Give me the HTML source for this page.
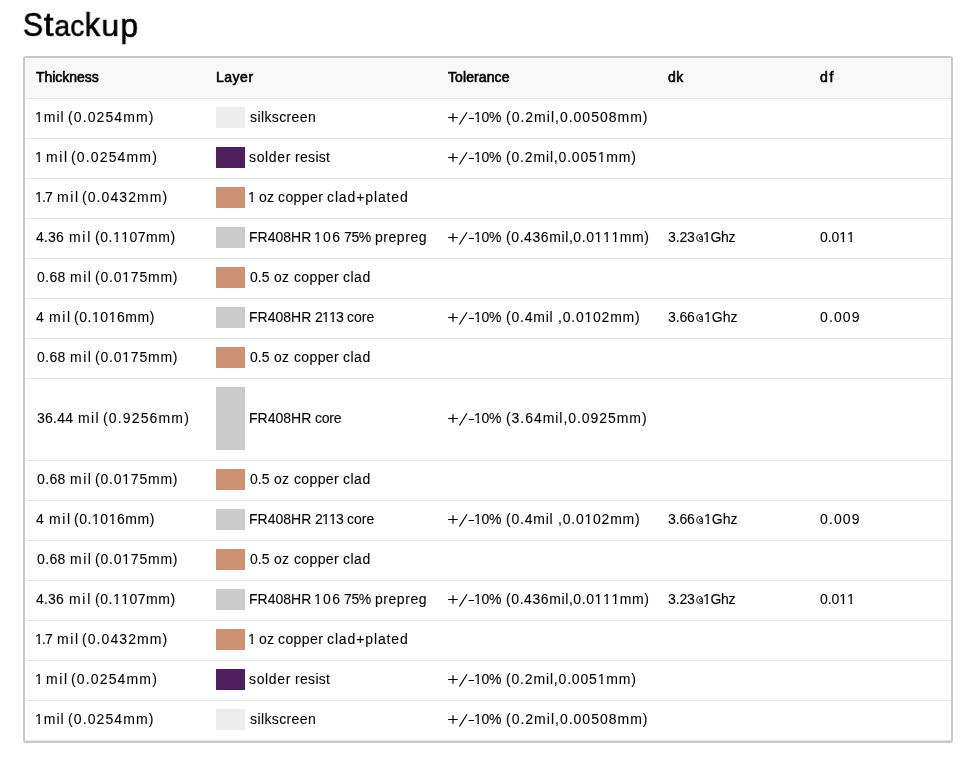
<!DOCTYPE html>
<html><head><meta charset="utf-8"><title>Stackup</title><style>
html,body{margin:0;padding:0;background:#fff;}
body{width:972px;height:764px;position:relative;overflow:hidden;font-family:"Liberation Sans",sans-serif;font-size:14px;color:#000;}
.t{position:absolute;white-space:pre;will-change:transform;line-height:20px;}
.box{position:absolute;left:23px;top:56px;width:926px;height:683px;border:2px solid #c8c8c8;border-radius:3px;background:#fff;}
.hd{position:absolute;left:25px;top:58px;width:926px;height:40px;background:#f8f8f8;}
.ln{position:absolute;left:26px;width:925px;height:1px;background:#e6e6e6;}
.pm{position:absolute;left:446px;}
.at{position:absolute;}
.o{display:inline-block;clip-path:polygon(-3px -5px,12px -5px,12px 12.6px,4.95px 12.6px,4.95px 22px,3.3px 22px,3.3px 12.6px,-3px 12.6px);}
.sw{position:absolute;left:216px;width:29px;}
</style></head><body>
<div class="box"></div>
<div class="hd"></div>
<div class="ln" style="top:98px"></div>
<div class="ln" style="top:138px"></div>
<div class="ln" style="top:178px"></div>
<div class="ln" style="top:218px"></div>
<div class="ln" style="top:258px"></div>
<div class="ln" style="top:298px"></div>
<div class="ln" style="top:338px"></div>
<div class="ln" style="top:378px"></div>
<div class="ln" style="top:460px"></div>
<div class="ln" style="top:500px"></div>
<div class="ln" style="top:540px"></div>
<div class="ln" style="top:580px"></div>
<div class="ln" style="top:620px"></div>
<div class="ln" style="top:660px"></div>
<div class="ln" style="top:700px"></div>
<div class="ln" style="top:740px"></div>
<div class="sw" style="top:107px;height:21px;background:#ededed"></div>
<div class="sw" style="top:147px;height:21px;background:#4d1f5c"></div>
<div class="sw" style="top:187px;height:21px;background:#cd9174"></div>
<div class="sw" style="top:227px;height:21px;background:#cbcbcb"></div>
<div class="sw" style="top:267px;height:21px;background:#cd9174"></div>
<div class="sw" style="top:307px;height:21px;background:#cbcbcb"></div>
<div class="sw" style="top:347px;height:21px;background:#cd9174"></div>
<div class="sw" style="top:387px;height:63px;background:#cbcbcb"></div>
<div class="sw" style="top:469px;height:21px;background:#cd9174"></div>
<div class="sw" style="top:509px;height:21px;background:#cbcbcb"></div>
<div class="sw" style="top:549px;height:21px;background:#cd9174"></div>
<div class="sw" style="top:589px;height:21px;background:#cbcbcb"></div>
<div class="sw" style="top:629px;height:21px;background:#cd9174"></div>
<div class="sw" style="top:669px;height:21px;background:#4d1f5c"></div>
<div class="sw" style="top:709px;height:21px;background:#ededed"></div>
<div class="t" style="left:35.02px;top:107.15px;letter-spacing:0.97px;-webkit-text-stroke:0.1px #000"><span class="o">1</span>mil</div>
<div class="t" style="left:67.70px;top:107.15px;letter-spacing:1.10px;-webkit-text-stroke:0.1px #000">(0.0254mm)</div>
<div class="t" style="left:249.50px;top:107.15px;letter-spacing:0.39px;-webkit-text-stroke:0.1px #000">silkscreen</div>
<div class="t" style="left:473.62px;top:107.15px;letter-spacing:-0.25px;-webkit-text-stroke:0.1px #000"><span class="o">1</span>0%</div>
<div class="t" style="left:505.50px;top:107.15px;letter-spacing:1.00px;-webkit-text-stroke:0.1px #000">(0.2mil,0.00508mm)</div>
<div class="t" style="left:34.82px;top:147.15px;-webkit-text-stroke:0.1px #000"><span class="o">1</span></div>
<div class="t" style="left:46.00px;top:147.15px;letter-spacing:1.61px;-webkit-text-stroke:0.1px #000">mil</div>
<div class="t" style="left:71.30px;top:147.15px;letter-spacing:1.15px;-webkit-text-stroke:0.1px #000">(0.0254mm)</div>
<div class="t" style="left:249.20px;top:147.15px;letter-spacing:0.65px;-webkit-text-stroke:0.1px #000">solder</div>
<div class="t" style="left:295.10px;top:147.15px;letter-spacing:0.31px;-webkit-text-stroke:0.1px #000">resist</div>
<div class="t" style="left:473.62px;top:147.15px;letter-spacing:-0.25px;-webkit-text-stroke:0.1px #000"><span class="o">1</span>0%</div>
<div class="t" style="left:505.50px;top:147.15px;letter-spacing:0.83px;-webkit-text-stroke:0.1px #000">(0.2mil,0.005<span class="o">1</span>mm)</div>
<div class="t" style="left:34.82px;top:187.15px;letter-spacing:-0.80px;-webkit-text-stroke:0.1px #000"><span class="o">1</span>.7</div>
<div class="t" style="left:56.70px;top:187.15px;letter-spacing:1.61px;-webkit-text-stroke:0.1px #000">mil</div>
<div class="t" style="left:82.00px;top:187.15px;letter-spacing:1.08px;-webkit-text-stroke:0.1px #000">(0.0432mm)</div>
<div class="t" style="left:247.92px;top:187.15px;-webkit-text-stroke:0.1px #000"><span class="o">1</span></div>
<div class="t" style="left:258.80px;top:187.15px;letter-spacing:0.11px;-webkit-text-stroke:0.1px #000">oz</div>
<div class="t" style="left:277.90px;top:187.15px;letter-spacing:0.41px;-webkit-text-stroke:0.1px #000">copper</div>
<div class="t" style="left:327.30px;top:187.15px;letter-spacing:0.88px;-webkit-text-stroke:0.1px #000">clad+plated</div>
<div class="t" style="left:36.10px;top:227.15px;letter-spacing:0.18px;-webkit-text-stroke:0.1px #000">4.36</div>
<div class="t" style="left:69.40px;top:227.15px;letter-spacing:1.71px;-webkit-text-stroke:0.1px #000">mil</div>
<div class="t" style="left:95.00px;top:227.15px;letter-spacing:0.51px;-webkit-text-stroke:0.1px #000">(0.<span class="o">1</span><span class="o">1</span>07mm)</div>
<div class="t" style="left:248.80px;top:227.15px;letter-spacing:0.01px;-webkit-text-stroke:0.1px #000">FR408HR</div>
<div class="t" style="left:313.52px;top:227.15px;letter-spacing:1.30px;-webkit-text-stroke:0.1px #000"><span class="o">1</span>06</div>
<div class="t" style="left:343.50px;top:227.15px;letter-spacing:-0.39px;-webkit-text-stroke:0.1px #000">75%</div>
<div class="t" style="left:375.10px;top:227.15px;letter-spacing:0.54px;-webkit-text-stroke:0.1px #000">prepreg</div>
<div class="t" style="left:473.62px;top:227.15px;letter-spacing:-0.25px;-webkit-text-stroke:0.1px #000"><span class="o">1</span>0%</div>
<div class="t" style="left:505.50px;top:227.15px;letter-spacing:0.59px;-webkit-text-stroke:0.1px #000">(0.436mil,0.0<span class="o">1</span><span class="o">1</span><span class="o">1</span>mm)</div>
<div class="t" style="left:667.90px;top:227.15px;letter-spacing:-0.15px;-webkit-text-stroke:0.1px #000">3.23</div>
<div class="t" style="left:703.42px;top:227.15px;letter-spacing:-0.33px;-webkit-text-stroke:0.1px #000"><span class="o">1</span>Ghz</div>
<div class="t" style="left:819.75px;top:227.15px;letter-spacing:-0.06px;-webkit-text-stroke:0.1px #000">0.0<span class="o">1</span><span class="o">1</span></div>
<div class="t" style="left:36.80px;top:267.15px;letter-spacing:0.35px;-webkit-text-stroke:0.1px #000">0.68</div>
<div class="t" style="left:70.30px;top:267.15px;letter-spacing:1.51px;-webkit-text-stroke:0.1px #000">mil</div>
<div class="t" style="left:95.40px;top:267.15px;letter-spacing:0.78px;-webkit-text-stroke:0.1px #000">(0.0<span class="o">1</span>75mm)</div>
<div class="t" style="left:249.80px;top:267.15px;letter-spacing:0.01px;-webkit-text-stroke:0.1px #000">0.5</div>
<div class="t" style="left:274.10px;top:267.15px;letter-spacing:0.11px;-webkit-text-stroke:0.1px #000">oz</div>
<div class="t" style="left:293.80px;top:267.15px;letter-spacing:0.37px;-webkit-text-stroke:0.1px #000">copper</div>
<div class="t" style="left:343.00px;top:267.15px;letter-spacing:0.50px;-webkit-text-stroke:0.1px #000">clad</div>
<div class="t" style="left:36.10px;top:307.15px;-webkit-text-stroke:0.1px #000">4</div>
<div class="t" style="left:48.90px;top:307.15px;letter-spacing:1.61px;-webkit-text-stroke:0.1px #000">mil</div>
<div class="t" style="left:74.40px;top:307.15px;letter-spacing:0.55px;-webkit-text-stroke:0.1px #000">(0.<span class="o">1</span>0<span class="o">1</span>6mm)</div>
<div class="t" style="left:248.80px;top:307.15px;letter-spacing:0.01px;-webkit-text-stroke:0.1px #000">FR408HR</div>
<div class="t" style="left:315.40px;top:307.15px;letter-spacing:-0.80px;-webkit-text-stroke:0.1px #000">2<span class="o">1</span><span class="o">1</span>3</div>
<div class="t" style="left:347.00px;top:307.15px;letter-spacing:0.02px;-webkit-text-stroke:0.1px #000">core</div>
<div class="t" style="left:473.62px;top:307.15px;letter-spacing:-0.25px;-webkit-text-stroke:0.1px #000"><span class="o">1</span>0%</div>
<div class="t" style="left:505.50px;top:307.15px;letter-spacing:0.77px;-webkit-text-stroke:0.1px #000">(0.4mil ,0.0<span class="o">1</span>02mm)</div>
<div class="t" style="left:668.00px;top:307.15px;letter-spacing:-0.15px;-webkit-text-stroke:0.1px #000">3.66</div>
<div class="t" style="left:703.52px;top:307.15px;letter-spacing:0.01px;-webkit-text-stroke:0.1px #000"><span class="o">1</span>Ghz</div>
<div class="t" style="left:819.75px;top:307.15px;letter-spacing:1.10px;-webkit-text-stroke:0.1px #000">0.009</div>
<div class="t" style="left:36.80px;top:347.15px;letter-spacing:0.35px;-webkit-text-stroke:0.1px #000">0.68</div>
<div class="t" style="left:70.30px;top:347.15px;letter-spacing:1.51px;-webkit-text-stroke:0.1px #000">mil</div>
<div class="t" style="left:95.40px;top:347.15px;letter-spacing:0.78px;-webkit-text-stroke:0.1px #000">(0.0<span class="o">1</span>75mm)</div>
<div class="t" style="left:249.80px;top:347.15px;letter-spacing:0.01px;-webkit-text-stroke:0.1px #000">0.5</div>
<div class="t" style="left:274.10px;top:347.15px;letter-spacing:0.11px;-webkit-text-stroke:0.1px #000">oz</div>
<div class="t" style="left:293.80px;top:347.15px;letter-spacing:0.37px;-webkit-text-stroke:0.1px #000">copper</div>
<div class="t" style="left:343.00px;top:347.15px;letter-spacing:0.50px;-webkit-text-stroke:0.1px #000">clad</div>
<div class="t" style="left:36.60px;top:408.15px;letter-spacing:0.24px;-webkit-text-stroke:0.1px #000">36.44</div>
<div class="t" style="left:78.10px;top:408.15px;letter-spacing:1.36px;-webkit-text-stroke:0.1px #000">mil</div>
<div class="t" style="left:103.10px;top:408.15px;letter-spacing:1.15px;-webkit-text-stroke:0.1px #000">(0.9256mm)</div>
<div class="t" style="left:248.80px;top:408.15px;letter-spacing:0.01px;-webkit-text-stroke:0.1px #000">FR408HR</div>
<div class="t" style="left:315.40px;top:408.15px;letter-spacing:-0.22px;-webkit-text-stroke:0.1px #000">core</div>
<div class="t" style="left:473.62px;top:408.15px;letter-spacing:-0.25px;-webkit-text-stroke:0.1px #000"><span class="o">1</span>0%</div>
<div class="t" style="left:505.50px;top:408.15px;letter-spacing:0.95px;-webkit-text-stroke:0.1px #000">(3.64mil,0.0925mm)</div>
<div class="t" style="left:36.80px;top:469.15px;letter-spacing:0.35px;-webkit-text-stroke:0.1px #000">0.68</div>
<div class="t" style="left:70.30px;top:469.15px;letter-spacing:1.51px;-webkit-text-stroke:0.1px #000">mil</div>
<div class="t" style="left:95.40px;top:469.15px;letter-spacing:0.78px;-webkit-text-stroke:0.1px #000">(0.0<span class="o">1</span>75mm)</div>
<div class="t" style="left:249.80px;top:469.15px;letter-spacing:0.01px;-webkit-text-stroke:0.1px #000">0.5</div>
<div class="t" style="left:274.10px;top:469.15px;letter-spacing:0.11px;-webkit-text-stroke:0.1px #000">oz</div>
<div class="t" style="left:293.80px;top:469.15px;letter-spacing:0.37px;-webkit-text-stroke:0.1px #000">copper</div>
<div class="t" style="left:343.00px;top:469.15px;letter-spacing:0.50px;-webkit-text-stroke:0.1px #000">clad</div>
<div class="t" style="left:36.10px;top:509.15px;-webkit-text-stroke:0.1px #000">4</div>
<div class="t" style="left:48.90px;top:509.15px;letter-spacing:1.61px;-webkit-text-stroke:0.1px #000">mil</div>
<div class="t" style="left:74.40px;top:509.15px;letter-spacing:0.55px;-webkit-text-stroke:0.1px #000">(0.<span class="o">1</span>0<span class="o">1</span>6mm)</div>
<div class="t" style="left:248.80px;top:509.15px;letter-spacing:0.01px;-webkit-text-stroke:0.1px #000">FR408HR</div>
<div class="t" style="left:315.40px;top:509.15px;letter-spacing:-0.80px;-webkit-text-stroke:0.1px #000">2<span class="o">1</span><span class="o">1</span>3</div>
<div class="t" style="left:347.00px;top:509.15px;letter-spacing:0.02px;-webkit-text-stroke:0.1px #000">core</div>
<div class="t" style="left:473.62px;top:509.15px;letter-spacing:-0.25px;-webkit-text-stroke:0.1px #000"><span class="o">1</span>0%</div>
<div class="t" style="left:505.50px;top:509.15px;letter-spacing:0.77px;-webkit-text-stroke:0.1px #000">(0.4mil ,0.0<span class="o">1</span>02mm)</div>
<div class="t" style="left:668.00px;top:509.15px;letter-spacing:-0.15px;-webkit-text-stroke:0.1px #000">3.66</div>
<div class="t" style="left:703.52px;top:509.15px;letter-spacing:0.01px;-webkit-text-stroke:0.1px #000"><span class="o">1</span>Ghz</div>
<div class="t" style="left:819.75px;top:509.15px;letter-spacing:1.10px;-webkit-text-stroke:0.1px #000">0.009</div>
<div class="t" style="left:36.80px;top:549.15px;letter-spacing:0.35px;-webkit-text-stroke:0.1px #000">0.68</div>
<div class="t" style="left:70.30px;top:549.15px;letter-spacing:1.51px;-webkit-text-stroke:0.1px #000">mil</div>
<div class="t" style="left:95.40px;top:549.15px;letter-spacing:0.78px;-webkit-text-stroke:0.1px #000">(0.0<span class="o">1</span>75mm)</div>
<div class="t" style="left:249.80px;top:549.15px;letter-spacing:0.01px;-webkit-text-stroke:0.1px #000">0.5</div>
<div class="t" style="left:274.10px;top:549.15px;letter-spacing:0.11px;-webkit-text-stroke:0.1px #000">oz</div>
<div class="t" style="left:293.80px;top:549.15px;letter-spacing:0.37px;-webkit-text-stroke:0.1px #000">copper</div>
<div class="t" style="left:343.00px;top:549.15px;letter-spacing:0.50px;-webkit-text-stroke:0.1px #000">clad</div>
<div class="t" style="left:36.10px;top:589.15px;letter-spacing:0.18px;-webkit-text-stroke:0.1px #000">4.36</div>
<div class="t" style="left:69.40px;top:589.15px;letter-spacing:1.71px;-webkit-text-stroke:0.1px #000">mil</div>
<div class="t" style="left:95.00px;top:589.15px;letter-spacing:0.51px;-webkit-text-stroke:0.1px #000">(0.<span class="o">1</span><span class="o">1</span>07mm)</div>
<div class="t" style="left:248.80px;top:589.15px;letter-spacing:0.01px;-webkit-text-stroke:0.1px #000">FR408HR</div>
<div class="t" style="left:313.52px;top:589.15px;letter-spacing:1.30px;-webkit-text-stroke:0.1px #000"><span class="o">1</span>06</div>
<div class="t" style="left:343.50px;top:589.15px;letter-spacing:-0.39px;-webkit-text-stroke:0.1px #000">75%</div>
<div class="t" style="left:375.10px;top:589.15px;letter-spacing:0.54px;-webkit-text-stroke:0.1px #000">prepreg</div>
<div class="t" style="left:473.62px;top:589.15px;letter-spacing:-0.25px;-webkit-text-stroke:0.1px #000"><span class="o">1</span>0%</div>
<div class="t" style="left:505.50px;top:589.15px;letter-spacing:0.59px;-webkit-text-stroke:0.1px #000">(0.436mil,0.0<span class="o">1</span><span class="o">1</span><span class="o">1</span>mm)</div>
<div class="t" style="left:667.90px;top:589.15px;letter-spacing:-0.15px;-webkit-text-stroke:0.1px #000">3.23</div>
<div class="t" style="left:703.42px;top:589.15px;letter-spacing:-0.33px;-webkit-text-stroke:0.1px #000"><span class="o">1</span>Ghz</div>
<div class="t" style="left:819.75px;top:589.15px;letter-spacing:-0.06px;-webkit-text-stroke:0.1px #000">0.0<span class="o">1</span><span class="o">1</span></div>
<div class="t" style="left:34.82px;top:629.15px;letter-spacing:-0.80px;-webkit-text-stroke:0.1px #000"><span class="o">1</span>.7</div>
<div class="t" style="left:56.70px;top:629.15px;letter-spacing:1.61px;-webkit-text-stroke:0.1px #000">mil</div>
<div class="t" style="left:82.00px;top:629.15px;letter-spacing:1.08px;-webkit-text-stroke:0.1px #000">(0.0432mm)</div>
<div class="t" style="left:247.92px;top:629.15px;-webkit-text-stroke:0.1px #000"><span class="o">1</span></div>
<div class="t" style="left:258.80px;top:629.15px;letter-spacing:0.11px;-webkit-text-stroke:0.1px #000">oz</div>
<div class="t" style="left:277.90px;top:629.15px;letter-spacing:0.41px;-webkit-text-stroke:0.1px #000">copper</div>
<div class="t" style="left:327.30px;top:629.15px;letter-spacing:0.88px;-webkit-text-stroke:0.1px #000">clad+plated</div>
<div class="t" style="left:34.82px;top:669.15px;-webkit-text-stroke:0.1px #000"><span class="o">1</span></div>
<div class="t" style="left:46.00px;top:669.15px;letter-spacing:1.61px;-webkit-text-stroke:0.1px #000">mil</div>
<div class="t" style="left:71.30px;top:669.15px;letter-spacing:1.15px;-webkit-text-stroke:0.1px #000">(0.0254mm)</div>
<div class="t" style="left:249.20px;top:669.15px;letter-spacing:0.65px;-webkit-text-stroke:0.1px #000">solder</div>
<div class="t" style="left:295.10px;top:669.15px;letter-spacing:0.31px;-webkit-text-stroke:0.1px #000">resist</div>
<div class="t" style="left:473.62px;top:669.15px;letter-spacing:-0.25px;-webkit-text-stroke:0.1px #000"><span class="o">1</span>0%</div>
<div class="t" style="left:505.50px;top:669.15px;letter-spacing:0.83px;-webkit-text-stroke:0.1px #000">(0.2mil,0.005<span class="o">1</span>mm)</div>
<div class="t" style="left:35.02px;top:709.15px;letter-spacing:0.97px;-webkit-text-stroke:0.1px #000"><span class="o">1</span>mil</div>
<div class="t" style="left:67.70px;top:709.15px;letter-spacing:1.10px;-webkit-text-stroke:0.1px #000">(0.0254mm)</div>
<div class="t" style="left:249.50px;top:709.15px;letter-spacing:0.39px;-webkit-text-stroke:0.1px #000">silkscreen</div>
<div class="t" style="left:473.62px;top:709.15px;letter-spacing:-0.25px;-webkit-text-stroke:0.1px #000"><span class="o">1</span>0%</div>
<div class="t" style="left:505.50px;top:709.15px;letter-spacing:1.00px;-webkit-text-stroke:0.1px #000">(0.2mil,0.00508mm)</div>
<div class="t" style="left:36.40px;top:66.90px;letter-spacing:-0.04px;-webkit-text-stroke:0.6px #000">Thickness</div>
<div class="t" style="left:215.80px;top:66.90px;letter-spacing:0.51px;-webkit-text-stroke:0.6px #000">Layer</div>
<div class="t" style="left:448.30px;top:66.90px;letter-spacing:0.09px;-webkit-text-stroke:0.6px #000">Tolerance</div>
<div class="t" style="left:667.70px;top:66.90px;letter-spacing:0.41px;-webkit-text-stroke:0.6px #000">dk</div>
<div class="t" style="left:819.60px;top:66.90px;letter-spacing:1.81px;-webkit-text-stroke:0.6px #000">df</div>
<div class="t" style="left:21.65px;top:14.57px;font-size:33px;transform:scale(0.9175,1.0000);transform-origin:11.00px 21.43px;-webkit-text-stroke:0.6px #000">S</div>
<div class="t" style="left:44.00px;top:14.57px;font-size:33px;transform:scale(1.0667,1.0000);transform-origin:4.50px 21.43px;-webkit-text-stroke:0.6px #000">t</div>
<div class="t" style="left:52.75px;top:14.57px;font-size:33px;transform:scale(0.8528,0.8900);transform-origin:10.00px 21.43px;-webkit-text-stroke:0.6px #000">a</div>
<div class="t" style="left:69.45px;top:14.57px;font-size:33px;transform:scale(0.8433,0.8900);transform-origin:8.50px 21.43px;-webkit-text-stroke:0.6px #000">c</div>
<div class="t" style="left:83.95px;top:14.57px;font-size:33px;transform:scale(0.9433,1.0000);transform-origin:9.50px 21.43px;-webkit-text-stroke:0.6px #000">k</div>
<div class="t" style="left:100.90px;top:14.57px;font-size:33px;transform:scale(0.9667,0.8900);transform-origin:9.50px 21.43px;-webkit-text-stroke:0.6px #000">u</div>
<div class="t" style="left:120.20px;top:15.97px;font-size:33px;transform:scale(0.9733,1.0000);transform-origin:9.50px 21.43px;-webkit-text-stroke:0.6px #000">p</div>
<svg class="pm" style="top:108.00px" width="30" height="20" viewBox="0 0 30 20"><path d="M2.2 9.5H11.7M7 5.2V13.7M13.4 16.5L21 4.2M22.7 10.5H27.9" stroke="#000" stroke-width="1.2" fill="none"/></svg>
<svg class="pm" style="top:148.00px" width="30" height="20" viewBox="0 0 30 20"><path d="M2.2 9.5H11.7M7 5.2V13.7M13.4 16.5L21 4.2M22.7 10.5H27.9" stroke="#000" stroke-width="1.2" fill="none"/></svg>
<svg class="pm" style="top:228.00px" width="30" height="20" viewBox="0 0 30 20"><path d="M2.2 9.5H11.7M7 5.2V13.7M13.4 16.5L21 4.2M22.7 10.5H27.9" stroke="#000" stroke-width="1.2" fill="none"/></svg>
<svg class="pm" style="top:308.00px" width="30" height="20" viewBox="0 0 30 20"><path d="M2.2 9.5H11.7M7 5.2V13.7M13.4 16.5L21 4.2M22.7 10.5H27.9" stroke="#000" stroke-width="1.2" fill="none"/></svg>
<svg class="pm" style="top:409.00px" width="30" height="20" viewBox="0 0 30 20"><path d="M2.2 9.5H11.7M7 5.2V13.7M13.4 16.5L21 4.2M22.7 10.5H27.9" stroke="#000" stroke-width="1.2" fill="none"/></svg>
<svg class="pm" style="top:510.00px" width="30" height="20" viewBox="0 0 30 20"><path d="M2.2 9.5H11.7M7 5.2V13.7M13.4 16.5L21 4.2M22.7 10.5H27.9" stroke="#000" stroke-width="1.2" fill="none"/></svg>
<svg class="pm" style="top:590.00px" width="30" height="20" viewBox="0 0 30 20"><path d="M2.2 9.5H11.7M7 5.2V13.7M13.4 16.5L21 4.2M22.7 10.5H27.9" stroke="#000" stroke-width="1.2" fill="none"/></svg>
<svg class="pm" style="top:670.00px" width="30" height="20" viewBox="0 0 30 20"><path d="M2.2 9.5H11.7M7 5.2V13.7M13.4 16.5L21 4.2M22.7 10.5H27.9" stroke="#000" stroke-width="1.2" fill="none"/></svg>
<svg class="pm" style="top:710.00px" width="30" height="20" viewBox="0 0 30 20"><path d="M2.2 9.5H11.7M7 5.2V13.7M13.4 16.5L21 4.2M22.7 10.5H27.9" stroke="#000" stroke-width="1.2" fill="none"/></svg>
<svg class="at" style="left:694.00px;top:232.00px" width="12" height="12" viewBox="0 0 12 12"><path d="M8.55 9.35H5.6A2.95 3.45 0 1 1 8.55 5.9V9.35" stroke="#000" stroke-width="0.9" fill="none"/><circle cx="6.95" cy="6.1" r="1.5" stroke="#000" stroke-width="0.9" fill="none"/></svg>
<svg class="at" style="left:694.10px;top:312.00px" width="12" height="12" viewBox="0 0 12 12"><path d="M8.55 9.35H5.6A2.95 3.45 0 1 1 8.55 5.9V9.35" stroke="#000" stroke-width="0.9" fill="none"/><circle cx="6.95" cy="6.1" r="1.5" stroke="#000" stroke-width="0.9" fill="none"/></svg>
<svg class="at" style="left:694.10px;top:514.00px" width="12" height="12" viewBox="0 0 12 12"><path d="M8.55 9.35H5.6A2.95 3.45 0 1 1 8.55 5.9V9.35" stroke="#000" stroke-width="0.9" fill="none"/><circle cx="6.95" cy="6.1" r="1.5" stroke="#000" stroke-width="0.9" fill="none"/></svg>
<svg class="at" style="left:694.00px;top:594.00px" width="12" height="12" viewBox="0 0 12 12"><path d="M8.55 9.35H5.6A2.95 3.45 0 1 1 8.55 5.9V9.35" stroke="#000" stroke-width="0.9" fill="none"/><circle cx="6.95" cy="6.1" r="1.5" stroke="#000" stroke-width="0.9" fill="none"/></svg>
</body></html>
